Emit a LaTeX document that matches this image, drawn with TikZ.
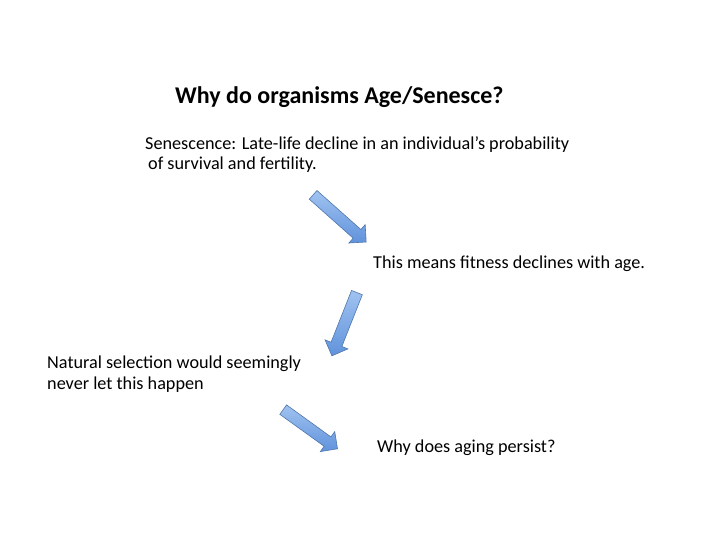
\documentclass[tikz,border=0pt]{standalone}
\usepackage{fontspec}
\setmainfont{Carlito}
\usetikzlibrary{shapes.arrows}

\definecolor{arrowfill}{RGB}{96,146,220}
\definecolor{arrowlight}{RGB}{160,195,240}
\definecolor{arrowline}{RGB}{80,118,170}

\tikzset{
  title/.style={anchor=base west, inner sep=0pt, font=\fontsize{24}{28}\selectfont\bfseries},
  txt/.style={anchor=base west, inner sep=0pt, font=\fontsize{18.2}{22}\selectfont},
  blockarrow/.style={single arrow, draw=arrowline, line width=0.6pt,
    top color=arrowlight, bottom color=arrowfill,
    inner sep=0pt, inner ysep=5.5pt, single arrow head extend=6.5pt,
    single arrow tip angle=90, anchor=center}
}

\begin{document}
\begin{tikzpicture}[x=1pt,y=-1pt]
  \useasboundingbox (0,0) rectangle (720,540);
  \node[title] (head) at (175,104) {Why do organisms Age/Senesce?};
  \node[txt] (def1) at (145,150) {Senescence: Late-life decline in an individual's probability};
  \node[txt] (def2) at (148,170) {of survival and fertility.};
  \node[txt] (fit) at (373,268) {This means fitness declines with age.};
  \node[txt] (nat1) at (47,368) {Natural selection would seemingly};
  \node[txt] (nat2) at (47,389) {never let this happen};
  \node[txt] (why) at (377,452) {Why does aging persist?};
  % block arrows
  \node[blockarrow, minimum height=71pt, rotate=-41.6] (arrA) at (337.5,216.5) {};
  \node[blockarrow, minimum height=68pt, rotate=-111.6] (arrB) at (345.5,321.5) {};
  \node[blockarrow, minimum height=67pt, rotate=-35.8] (arrC) at (308,427.5) {};
\end{tikzpicture}
\end{document}
